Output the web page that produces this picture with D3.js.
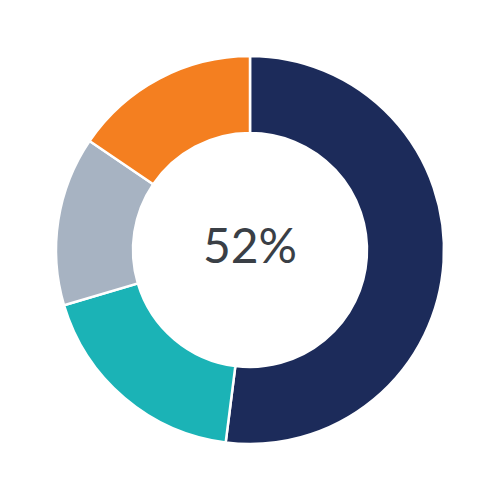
<!DOCTYPE html>
<html><head><meta charset="utf-8">
<script src="https://cdn.jsdelivr.net/npm/d3@7"></script>
<style>body{margin:0;background:#fff}</style>
</head><body>
<script>
const categories = ["A", "B", "C", "D"];
const values = [52, 18.4, 14.1, 15.5];
const colors = ["#1c2b5a", "#1bb3b6", "#a7b3c2", "#f47f20"];
const centerLabel = "52%";

const W = 500, H = 500, cx = 250, cy = 250, rOuter = 194, rInner = 117;
const svg = d3.select("body").append("svg").attr("width", W).attr("height", H);
const g = svg.append("g").attr("transform", `translate(${cx},${cy})`);
const pie = d3.pie().sort(null).value(d => d)(values);
const arc = d3.arc().innerRadius(rInner).outerRadius(rOuter);
g.selectAll("path").data(pie).join("path")
  .attr("d", arc)
  .attr("fill", (d, i) => colors[i])
  .attr("stroke", "#fff").attr("stroke-width", 2.5);
g.append("text").text(centerLabel)
  .attr("text-anchor", "middle").attr("y", 13)
  .attr("font-family", "Lato, sans-serif").attr("font-size", 48)
  .attr("fill", "#3a3f46");
</script>
</body></html>
